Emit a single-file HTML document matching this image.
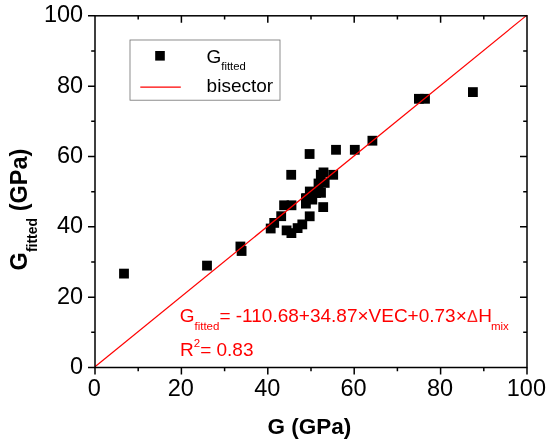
<!DOCTYPE html>
<html><head><meta charset="utf-8"><title>G fitted vs G</title>
<style>
html,body{margin:0;padding:0;background:#fff;}
body{width:550px;height:445px;overflow:hidden;}
svg{display:block;}
text{font-family:"Liberation Sans",Arial,sans-serif;}
</style></head><body>
<svg width="550" height="445" viewBox="0 0 550 445">
<rect width="550" height="445" fill="#ffffff"/>
<path d="M95.00 367.5 v7 M95.0 367.50 h-7 M138.20 367.5 v3.8 M138.20 15.8 v3.8 M95.0 332.33 h-3.8 M527.0 332.33 h-3.8 M181.40 367.5 v7 M181.40 15.8 v7 M95.0 297.16 h-7 M527.0 297.16 h-7 M224.60 367.5 v3.8 M224.60 15.8 v3.8 M95.0 261.99 h-3.8 M527.0 261.99 h-3.8 M267.80 367.5 v7 M267.80 15.8 v7 M95.0 226.82 h-7 M527.0 226.82 h-7 M311.00 367.5 v3.8 M311.00 15.8 v3.8 M95.0 191.65 h-3.8 M527.0 191.65 h-3.8 M354.20 367.5 v7 M354.20 15.8 v7 M95.0 156.48 h-7 M527.0 156.48 h-7 M397.40 367.5 v3.8 M397.40 15.8 v3.8 M95.0 121.31 h-3.8 M527.0 121.31 h-3.8 M440.60 367.5 v7 M440.60 15.8 v7 M95.0 86.14 h-7 M527.0 86.14 h-7 M483.80 367.5 v3.8 M483.80 15.8 v3.8 M95.0 50.97 h-3.8 M527.0 50.97 h-3.8 M527.00 367.5 v7 M95.0 15.80 h-7" stroke="#000" stroke-width="1.5" fill="none"/>
<g fill="#000">
<rect x="119.1" y="268.7" width="9.8" height="9.8"/><rect x="202.1" y="260.7" width="9.8" height="9.8"/><rect x="235.5" y="241.6" width="9.8" height="9.8"/><rect x="236.7" y="246.1" width="9.8" height="9.8"/><rect x="265.8" y="223.6" width="9.8" height="9.8"/><rect x="269.3" y="218.0" width="9.8" height="9.8"/><rect x="276.3" y="211.3" width="9.8" height="9.8"/><rect x="279.2" y="200.4" width="9.8" height="9.8"/><rect x="286.6" y="200.4" width="9.8" height="9.8"/><rect x="281.7" y="225.5" width="9.8" height="9.8"/><rect x="286.5" y="228.2" width="9.8" height="9.8"/><rect x="292.7" y="223.2" width="9.8" height="9.8"/><rect x="297.4" y="219.5" width="9.8" height="9.8"/><rect x="304.8" y="211.4" width="9.8" height="9.8"/><rect x="318.3" y="202.2" width="9.8" height="9.8"/><rect x="301.0" y="193.4" width="9.8" height="9.8"/><rect x="301.0" y="198.7" width="9.8" height="9.8"/><rect x="301.8" y="193.4" width="9.8" height="9.8"/><rect x="307.4" y="194.7" width="9.8" height="9.8"/><rect x="304.9" y="186.6" width="9.8" height="9.8"/><rect x="316.1" y="187.9" width="9.8" height="9.8"/><rect x="311.1" y="188.1" width="9.8" height="9.8"/><rect x="313.6" y="178.6" width="9.8" height="9.8"/><rect x="319.8" y="178.0" width="9.8" height="9.8"/><rect x="315.9" y="169.9" width="9.8" height="9.8"/><rect x="318.6" y="167.5" width="9.8" height="9.8"/><rect x="328.3" y="169.9" width="9.8" height="9.8"/><rect x="286.3" y="169.9" width="9.8" height="9.8"/><rect x="304.7" y="149.1" width="9.8" height="9.8"/><rect x="331.1" y="144.9" width="9.8" height="9.8"/><rect x="349.9" y="144.9" width="9.8" height="9.8"/><rect x="367.5" y="135.8" width="9.8" height="9.8"/><rect x="414.0" y="93.9" width="9.8" height="9.8"/><rect x="420.1" y="93.9" width="9.8" height="9.8"/><rect x="468.0" y="87.2" width="9.8" height="9.8"/>
</g>
<line x1="95.0" y1="366.8" x2="527.0" y2="15.1" stroke="#ff0000" stroke-width="1.2"/>
<rect x="95.0" y="15.8" width="432.0" height="351.7" fill="none" stroke="#000" stroke-width="1.5"/>
<g font-size="23.5" fill="#000">
<text x="94.4" y="396.3" text-anchor="middle">0</text><text x="83.2" y="373.9" text-anchor="end">0</text><text x="180.8" y="396.3" text-anchor="middle">20</text><text x="83.2" y="303.6" text-anchor="end">20</text><text x="267.2" y="396.3" text-anchor="middle">40</text><text x="83.2" y="233.2" text-anchor="end">40</text><text x="353.6" y="396.3" text-anchor="middle">60</text><text x="83.2" y="162.9" text-anchor="end">60</text><text x="440.0" y="396.3" text-anchor="middle">80</text><text x="83.2" y="92.5" text-anchor="end">80</text><text x="526.4" y="396.3" text-anchor="middle">100</text><text x="83.2" y="22.2" text-anchor="end">100</text>
</g>
<text x="309.4" y="434.2" font-size="22.5" font-weight="bold" text-anchor="middle">G (GPa)</text>
<text transform="translate(26.8,270.4) rotate(-90)" font-size="23.5" font-weight="bold">G<tspan font-size="14" dy="10.4">fitted</tspan><tspan dy="-10.4"> (GPa)</tspan></text>
<rect x="130" y="40" width="150" height="60.2" fill="#fff" stroke="#707070" stroke-width="0.8"/>
<rect x="155.2" y="51" width="9.6" height="9.6" fill="#000"/>
<line x1="140.3" y1="87.2" x2="180.8" y2="87.2" stroke="#ff0000" stroke-width="1.3"/>
<text x="206.5" y="62.7" font-size="19">G<tspan font-size="11.3" dy="7.3">fitted</tspan></text>
<text x="206.6" y="92" font-size="19">bisector</text>
<text x="179.7" y="322.3" font-size="19" fill="#ff0000">G<tspan font-size="11.5" dy="7.3">fitted</tspan><tspan dy="-7.3">= -110.68+34.87×VEC+0.73×</tspan><tspan font-size="16.2" fill-opacity="0.9" dx="0.3">Δ</tspan><tspan dx="0.2">H</tspan><tspan font-size="11.5" dy="7.3" dx="-0.9">mix</tspan></text>
<text x="180" y="356.2" font-size="19" fill="#ff0000">R<tspan font-size="11.5" dy="-9.5">2</tspan><tspan dy="9.5">= 0.83</tspan></text>
</svg>
</body></html>
